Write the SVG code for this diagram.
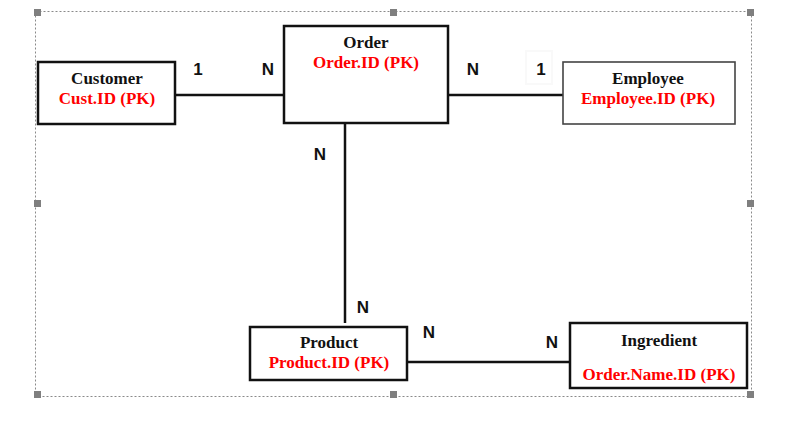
<svg xmlns="http://www.w3.org/2000/svg" width="798" height="425" viewBox="0 0 798 425">
<style>
.box{fill:#fff;stroke:#111;stroke-width:2.5}
.title{font-family:"Liberation Serif","Times New Roman",serif;font-weight:bold;font-size:17px;fill:#111;text-anchor:middle}
.key{font-family:"Liberation Serif","Times New Roman",serif;font-weight:bold;font-size:17px;fill:#ff0000;text-anchor:middle}
.card{font-family:"Liberation Sans",Arial,sans-serif;font-weight:bold;font-size:17px;fill:#111;text-anchor:middle}
.conn{stroke:#111;stroke-width:2.5;fill:none}
.handle{fill:#7f7f7f}
</style>
<rect width="798" height="425" fill="#fff"/>
<g id="frame">
<rect x="35.5" y="11.5" width="716" height="385" fill="none" stroke="#8a8a8a" stroke-width="1" stroke-dasharray="2,2"/>
<rect class="handle" x="34" y="9" width="7" height="7"/>
<rect class="handle" x="390" y="9" width="7" height="7"/>
<rect class="handle" x="747" y="9" width="7" height="7"/>
<rect class="handle" x="34" y="200" width="7" height="7"/>
<rect class="handle" x="747" y="200" width="7" height="7"/>
<rect class="handle" x="34" y="391" width="7" height="7"/>
<rect class="handle" x="390" y="391" width="7" height="7"/>
<rect class="handle" x="747" y="391" width="7" height="7"/>
</g>
<g id="connectors">
<line class="conn" x1="175" y1="95" x2="284" y2="95"/>
<line class="conn" x1="448" y1="95" x2="563" y2="95"/>
<line class="conn" x1="345" y1="123" x2="345" y2="323"/>
<line class="conn" x1="407" y1="362" x2="570" y2="362"/>
<rect x="525" y="50" width="28" height="35" fill="#f9f9f9"/>
<rect x="527" y="52" width="24" height="31" fill="#fff"/>
<text class="card" x="198" y="75">1</text>
<text class="card" x="268" y="75">N</text>
<text class="card" x="473" y="75">N</text>
<text class="card" x="541" y="75">1</text>
<text class="card" x="320" y="160">N</text>
<text class="card" x="363" y="313">N</text>
<text class="card" x="429" y="338">N</text>
<text class="card" x="552" y="348">N</text>
</g>
<g id="customer">
<rect class="box" x="38" y="62" width="137" height="62"/>
<text class="title" x="107" y="84">Customer</text>
<text class="key" x="107" y="104">Cust.ID (PK)</text>
</g>
<g id="order">
<rect class="box" x="284" y="26" width="164" height="97"/>
<text class="title" x="366" y="48">Order</text>
<text class="key" x="366" y="68">Order.ID (PK)</text>
</g>
<g id="employee">
<rect class="box" x="563" y="62" width="172" height="62" style="stroke:#444;stroke-width:1.6"/>
<text class="title" x="648" y="84">Employee</text>
<text class="key" x="648" y="104">Employee.ID (PK)</text>
</g>
<g id="product">
<rect class="box" x="250" y="327" width="157" height="53"/>
<text class="title" x="329" y="348">Product</text>
<text class="key" x="329" y="368">Product.ID (PK)</text>
</g>
<g id="ingredient">
<rect class="box" x="570" y="323" width="177" height="65"/>
<text class="title" x="659" y="346">Ingredient</text>
<text class="key" x="659" y="380">Order.Name.ID (PK)</text>
</g>
</svg>
